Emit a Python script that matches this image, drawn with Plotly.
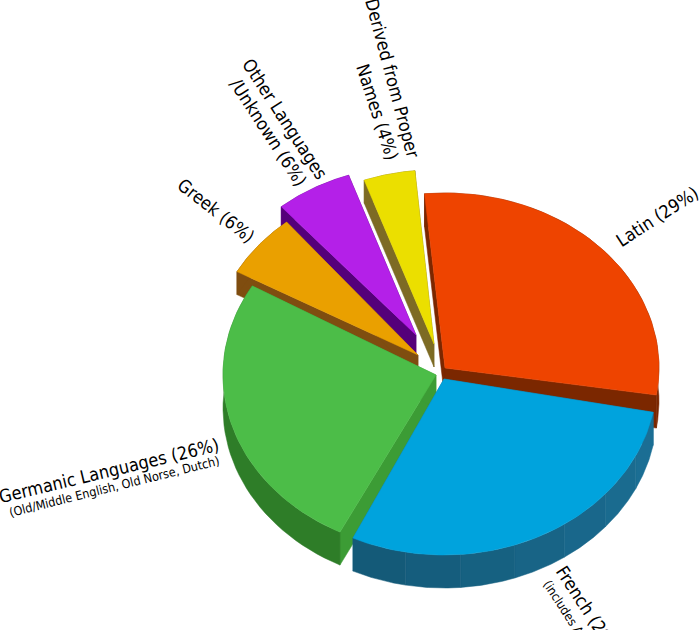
import numpy as np
import plotly.graph_objects as go

# Data
languages = ["Latin", "French", "Germanic Languages", "Greek", "Other Languages /Unknown", "Derived from Proper Names"]
shares = [29, 29, 26, 6, 6, 4]

# Styles and layout (apparent perspective of the drawn 3D pie, per slice)
tops = ["#ee4400", "#00a3dd", "#4cbd48", "#eaa000", "#b420e8", "#ebdf00"]
outer_near = ["#7b2700", "#1c7096", "#2e7d28", "#7f4d10", "#55007a", "#7d6b24"]
outer_far = ["#7b2700", "#135876", "#2e7d28", "#7f4d10", "#55007a", "#7d6b24"]
cut_walls = ["#7b2700", "#1c7096", "#3c9c35", "#7f4d10", "#55007a", "#7d6b24"]
apex_x = [445, 444, 436, 418, 416, 434]
apex_y = [368, 379, 375, 355, 335, 344]
radius_x = [214, 213, 213, 207, 207, 207]
radius_y = [175, 176, 176, 172, 169, 174]
depths = [33, 33, 33, 23, 21, 23]
nudges = [0, 2.0, 3.5, 2.1, 0.9, 0.2]
wall_segments = [1, 7, 1, 1, 1, 1]
draw_order = [5, 4, 3, 0, 2, 1]
START_DEG = -5.5


def hex_mix(a, b, t):
    ca = [int(a[i:i + 2], 16) for i in (1, 3, 5)]
    cb = [int(b[i:i + 2], 16) for i in (1, 3, 5)]
    return "#%02x%02x%02x" % tuple(round(p + (q - p) * t) for p, q in zip(ca, cb))


def poly(xs, ys, color, name):
    return go.Scatter(x=list(xs) + [xs[0]], y=list(ys) + [ys[0]], mode="lines", fill="toself",
                      fillcolor=color, line=dict(color=color, width=0.5), name=name,
                      hoverinfo="name", showlegend=False)


fig = go.Figure()
total = sum(shares)
cum = np.cumsum([0] + shares) / total * 360 + START_DEG

for i in draw_order:
    a0, a1 = cum[i] + nudges[i], cum[i + 1] + nudges[i]
    cx, cy, rx, ry, dp = apex_x[i], apex_y[i], radius_x[i], radius_y[i], depths[i]
    th = np.radians(np.linspace(a0, a1, 80))
    ax_ = cx + rx * np.sin(th)
    ay_ = cy - ry * np.cos(th)
    nm = languages[i]
    for ex, ey in [(ax_[0], ay_[0]), (ax_[-1], ay_[-1])]:
        fig.add_trace(poly([cx, ex, ex, cx], [cy, ey, ey + dp, cy + dp], cut_walls[i], nm))
    nseg = wall_segments[i]
    for s in range(nseg):
        b0 = a0 + (a1 - a0) * s / nseg
        b1 = a0 + (a1 - a0) * (s + 1) / nseg
        t = np.radians(np.linspace(b0, b1, 40))
        sx = cx + rx * np.sin(t)
        sy = cy - ry * np.cos(t)
        col = hex_mix(outer_near[i], outer_far[i], (s + 0.5) / nseg)
        fig.add_trace(poly(list(sx) + list(sx[::-1]), list(sy) + list(sy[::-1] + dp), col, nm))
    fig.add_trace(poly([cx] + list(ax_), [cy] + list(ay_), tops[i], nm))

labels = [
    ("Latin (29%)", 657, 216, -33, 18),
    ("French (29%)", 590, 612, 57, 18),
    ("(includes Anglo-Norman)", 585, 640, 57, 12.5),
    ("Germanic Languages (26%)", 109, 470, -13.5, 18),
    ("(Old/Middle English, Old Norse, Dutch)", 114, 486, -14, 12.5),
    ("Greek (6%)", 216, 211, 38, 18),
    ("Other Languages", 285, 118, 57, 18),
    ("/Unknown (6%)", 269, 132, 57, 18),
    ("Derived from Proper", 393, 78, 75, 18),
    ("Names (4%)", 378, 112, 72, 18),
]
for txt, px, py, ang, size in labels:
    fig.add_annotation(text=txt, x=px / 700, y=1 - py / 630, xref="paper", yref="paper",
                       xanchor="center", yanchor="middle", showarrow=False, textangle=ang,
                       font=dict(family="DejaVu Sans Condensed, DejaVu Sans", size=size, color="#000"))

fig.update_layout(width=700, height=630, margin=dict(l=0, r=0, t=0, b=0), showlegend=False,
                  paper_bgcolor="white", plot_bgcolor="white",
                  xaxis=dict(range=[0, 700], visible=False, fixedrange=True),
                  yaxis=dict(range=[630, 0], visible=False, fixedrange=True))
fig.write_html("out.html", config=dict(displayModeBar=False),
               post_script="document.body.style.margin='0';document.body.style.overflow='hidden';")
